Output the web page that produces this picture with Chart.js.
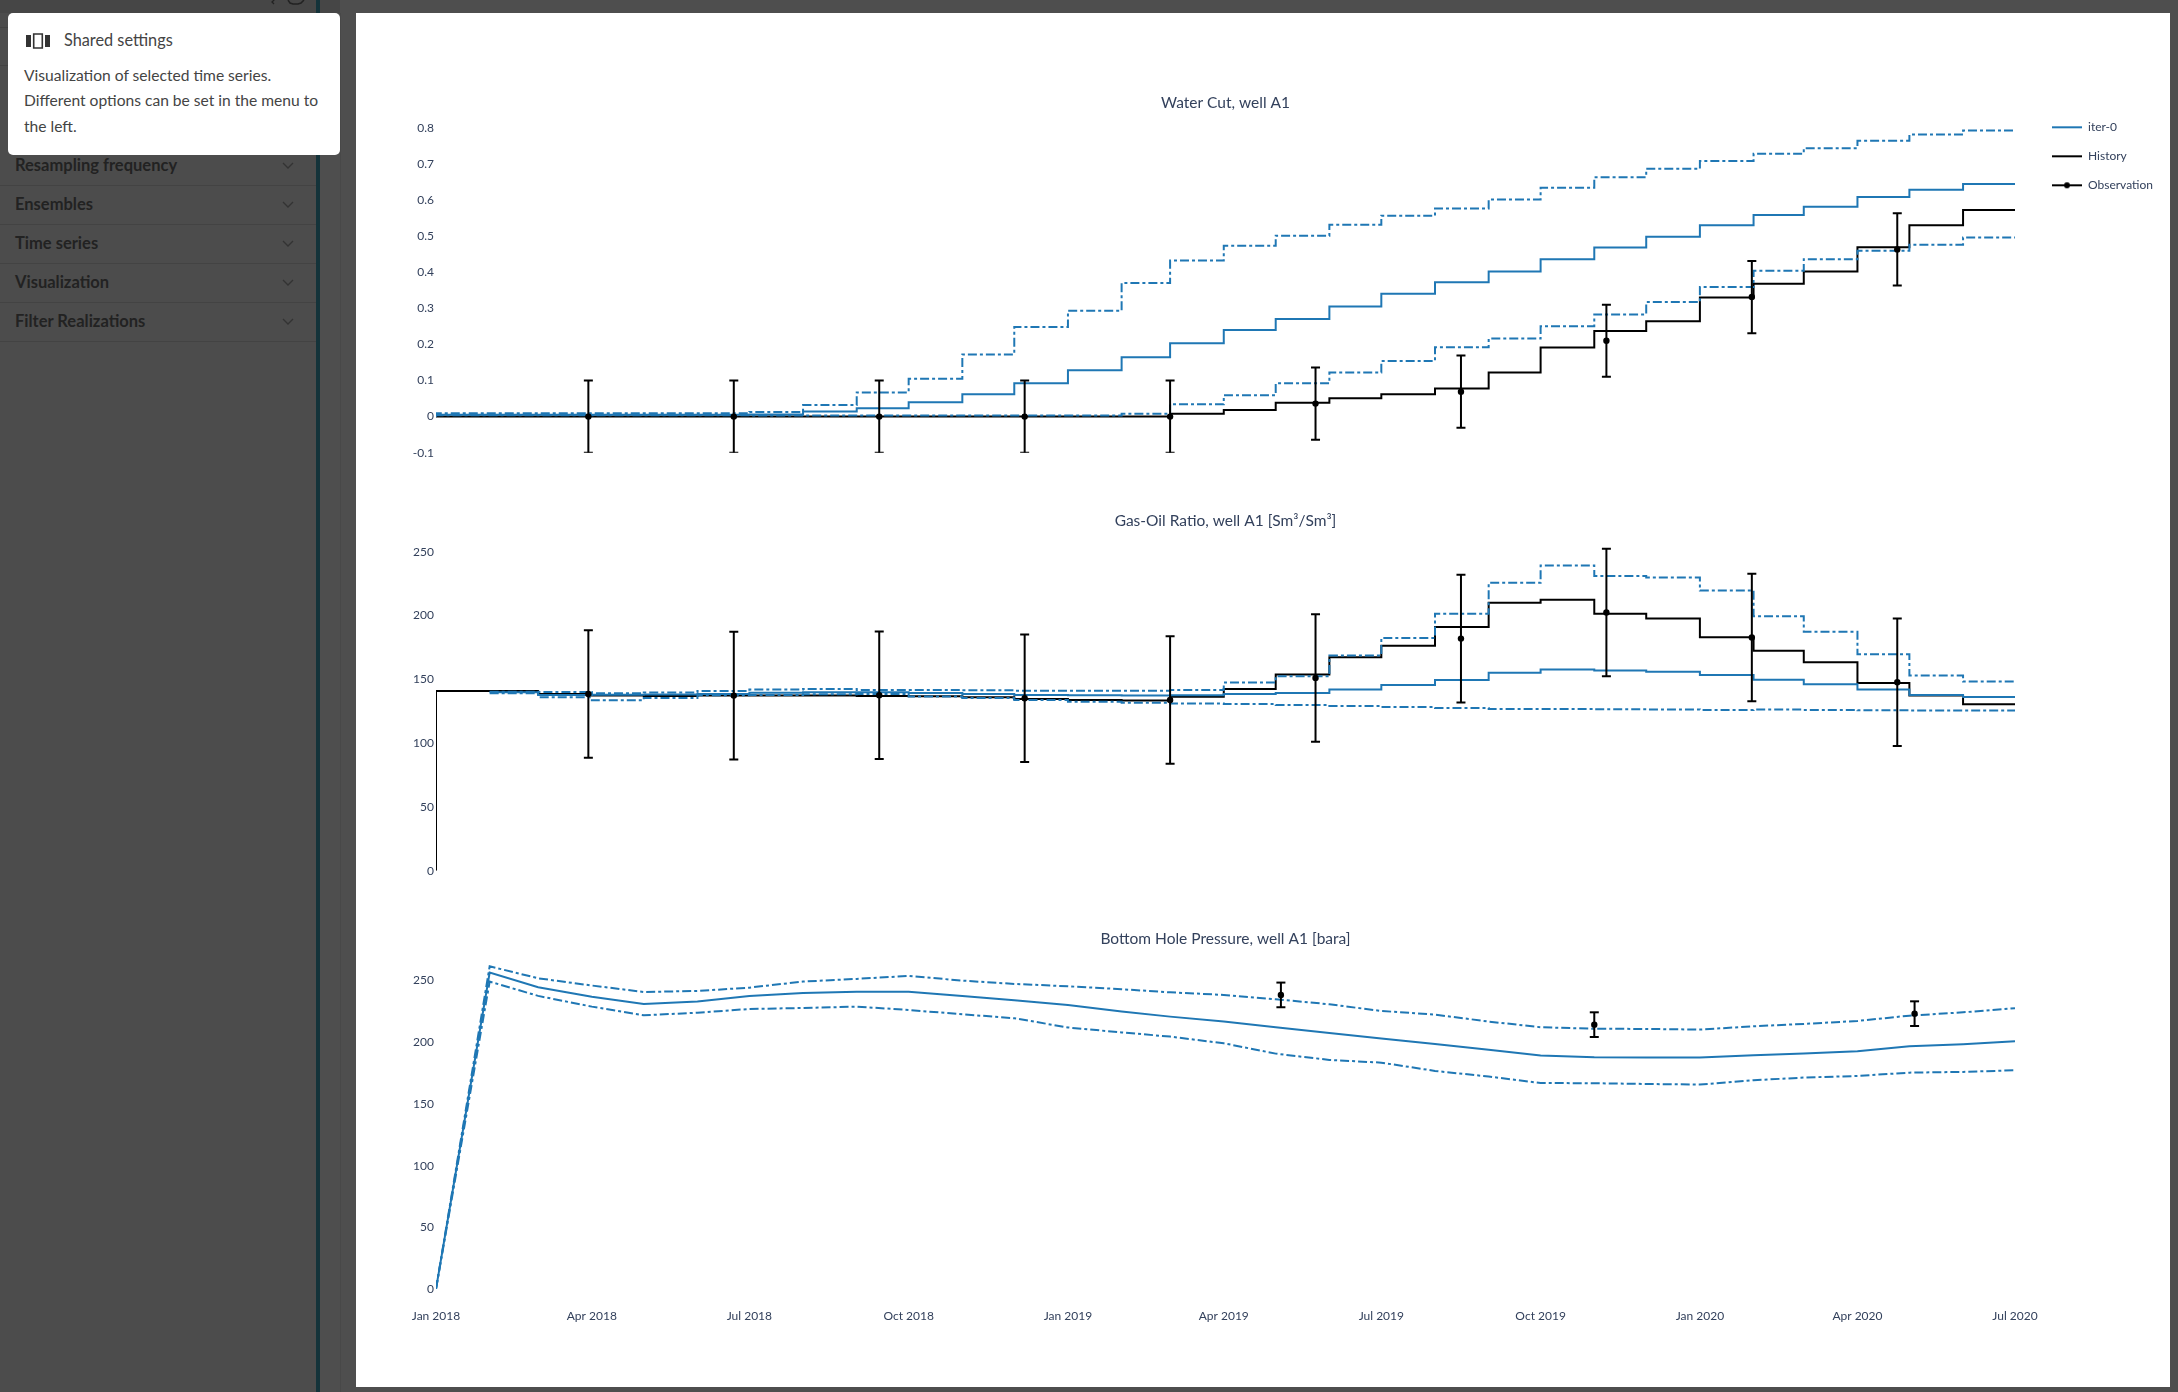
<!DOCTYPE html>
<html>
<head>
<meta charset="utf-8">
<title>Shared settings</title>
<script src="https://cdn.jsdelivr.net/npm/chart.js@4"></script>
<style>
  html, body { margin: 0; padding: 0; }
  body { position: relative; width: 2178px; height: 1392px; overflow: hidden; background: #4e4e4e; font-family: Lato, sans-serif; }
  .topband { position: absolute; left: 0; top: 0; width: 340px; height: 13px; background: #464646; }
  .stripe { position: absolute; left: 0; width: 316px; height: 1px; background: #434343; }
  .side { position: absolute; left: 0; top: 13px; width: 316px; height: 1379px; background: #4c4c4c; }
  .rail { position: absolute; left: 316px; top: 0; width: 4px; height: 1392px; background: #14333a; }
  .gutter { position: absolute; left: 340px; top: 13px; width: 1px; height: 1379px; background: #484848; }
  .sheet { position: absolute; left: 356px; top: 13px; width: 1814px; height: 1374px; background: #fff; }
  canvas { position: absolute; }
  .item { position: absolute; left: 0; width: 316px; height: 39px; border-bottom: 1px solid #434343; box-sizing: border-box; }
  .item b { position: absolute; left: 15px; top: 8px; font-size: 16.5px; color: #222; }
  .item svg { position: absolute; left: 282px; top: 15px; }
  .tip { position: absolute; left: 8px; top: 13px; width: 332px; height: 142px; background: #fff; border-radius: 5px; color: #444; }
  .tip svg { position: absolute; left: 18px; top: 20px; }
  .tip .head { position: absolute; left: 56px; top: 17px; font-size: 16.3px; }
  .tip .body { position: absolute; left: 16px; top: 50px; width: 320px; font-size: 15.6px; line-height: 25.4px; }
  .gear { position: absolute; left: 270px; top: 0; }
</style>
</head>
<body>
<div class="side"></div>
<div class="topband"></div>
<div class="stripe" style="top:27px"></div>
<div class="stripe" style="top:65px"></div>
<svg class="gear" width="40" height="8" viewBox="0 0 40 8"><path d="M6 -2L2 2l2 2" fill="none" stroke="#222" stroke-width="1.3"/><path d="M18 0l2 3 3 1 5 0 3-1 3-3" fill="none" stroke="#222" stroke-width="1.5"/></svg>
<div class="rail"></div>
<div class="gutter"></div>
<div class="sheet"></div>
<div id="menu"></div>
<div class="tip">
  <svg width="24" height="16" viewBox="0 0 24 16"><path d="M0 2h5v12H0zM19 2h5v12h-5z" fill="#333"/><path d="M7.7 1h8.6v14H7.7z" fill="none" stroke="#333" stroke-width="1.6"/></svg>
  <div class="head">Shared settings</div>
  <div class="body">Visualization of selected time series.<br>Different options can be set in the menu to<br>the left.</div>
</div>
<canvas id="wct"></canvas>
<canvas id="gor"></canvas>
<canvas id="bhp"></canvas>
<script>
'use strict';

const menuItems = ['Resampling frequency', 'Ensembles', 'Time series', 'Visualization', 'Filter Realizations'];
const legendOrder = ['iter-0', 'History', 'Observation'];

const months = [
  '2018-01-01','2018-02-01','2018-03-01','2018-04-01','2018-05-01','2018-06-01','2018-07-01','2018-08-01',
  '2018-09-01','2018-10-01','2018-11-01','2018-12-01','2019-01-01','2019-02-01','2019-03-01','2019-04-01',
  '2019-05-01','2019-06-01','2019-07-01','2019-08-01','2019-09-01','2019-10-01','2019-11-01','2019-12-01',
  '2020-01-01','2020-02-01','2020-03-01','2020-04-01','2020-05-01','2020-06-01','2020-07-01'
];
const tickDates  = ['2018-01-01','2018-04-01','2018-07-01','2018-10-01','2019-01-01','2019-04-01','2019-07-01','2019-10-01','2020-01-01','2020-04-01','2020-07-01'];
const tickLabels = ['Jan 2018','Apr 2018','Jul 2018','Oct 2018','Jan 2019','Apr 2019','Jul 2019','Oct 2019','Jan 2020','Apr 2020','Jul 2020'];

/* ─── Water cut ─── */
const wctMean = [0,.005,.005,.005,.005,.005,.005,.006,.014,.023,.04,.062,.092,.128,.164,.203,.24,.27,.305,.34,.372,.402,.436,.468,.498,.53,.558,.581,.608,.628,.644];
const wctHigh = [0,.009,.009,.009,.009,.009,.009,.013,.032,.067,.105,.172,.248,.293,.37,.432,.473,.501,.531,.556,.576,.601,.634,.663,.686,.708,.728,.743,.764,.781,.792];
const wctLow  = [0,.004,.004,.004,.004,.004,.004,.003,.003,.003,.003,.003,.003,.003,.008,.034,.059,.092,.122,.154,.192,.216,.25,.283,.317,.359,.404,.436,.459,.476,.496];
const wctHist = [0,0,0,0,0,0,0,0,0,0,0,0,0,0,0,.008,.018,.038,.051,.062,.078,.122,.191,.237,.264,.33,.368,.402,.469,.53,.572];
const wctObsDates = ['2018-03-30','2018-06-22','2018-09-14','2018-12-07','2019-03-01','2019-05-24','2019-08-16','2019-11-08','2020-01-31','2020-04-24'];
const wctObs    = [0,0,0,0,0,.036,.069,.21,.331,.463];
const wctObsErr = [.1,.1,.1,.1,.1,.1,.1,.1,.1,.1];

/* ─── Gas-oil ratio ─── */
const gorMean = [null,139.8,139.8,137.7,137.8,138,138.5,139.5,139.8,139.8,139.3,138.5,137.7,137.4,137.2,137.5,138.5,139.3,141.9,145.5,149.5,155.2,157.6,156.8,156,153.4,149.7,146.1,141.9,137.7,136.2];
const gorHigh = [null,140.3,140.3,140.1,139,139.6,140.9,141.9,142.4,141.7,141.7,141.4,141.1,141.1,141.1,141.7,147.4,152.4,168.6,182.4,201.3,225.6,239.2,231,229.8,219.6,199.4,187.2,169.6,152.9,148.2];
const gorLow  = [null,139,139,135.9,133.6,135.4,137.5,137.7,138.3,138.5,136.5,135.4,133.8,132.3,131.7,131,130.7,129.9,129.1,128.3,127.5,126.8,126.8,126.5,126.3,126,126.3,126,125.7,125.5,125.5];
const gorHist = [0,140.8,140.8,138.5,137.2,137,137.2,137.2,137.2,137,136.7,135.9,134.6,133.8,133.3,136.4,142.4,153.7,167.2,176.3,191,210,212.4,201.4,197.7,182.9,172.4,163.3,147.1,137.2,130.4];
const gorObsDates = wctObsDates;
const gorObs    = [138.5,137.2,137.5,135.1,133.8,151,181.9,202.3,182.7,147.7];
const gorObsErr = [50,50,50,50,50,50,50,50,50,50];

/* ─── Bottom hole pressure ─── */
const bhpMean = [0,256.5,244.6,237,231,233,237.6,240,241,241,237.6,234,230.3,225,220.8,216.8,212.2,207.6,203,198.6,194,189.2,187.8,187.6,187.6,189.5,191,192.7,196.8,198.4,200.8];
const bhpHigh = [0,261.6,251.9,246,240.8,241.6,244.3,249.2,251.4,253.8,250,247.3,245.4,243,240.5,238.4,234.9,230.8,225.4,222.4,216.8,212.2,211,210.8,210.3,213,214.9,217.3,221.6,224.3,227.6];
const bhpLow  = [0,249.2,237.6,228.9,221.9,224,227,227.8,228.9,226.2,222.7,219.5,212,208,204.6,199.2,190.8,185.7,183.5,176.8,172.2,167,166.8,166.2,165.7,169.2,171.4,172.7,175.4,176,177.3];
const bhpObsDates = ['2019-05-04','2019-11-01','2020-05-04'];
const bhpObs    = [238.4,214.3,223.2];
const bhpObsErr = [10,10,10];

const BLUE = '#1f77b4';
const INK  = '#33415c';
const FONT = 'Lato, sans-serif';

const day = s => Date.parse(s + 'T00:00:00Z');
const xStart = day('2018-01-01');
const xEnd   = day('2020-07-01');
const series = vals => vals.map((v, i) => ({ x: day(months[i]), y: v }));

/* ─── Dataset builders ─── */
function lineSet(label, vals, color, stepped, dash) {
  return {
    label, data: series(vals), borderColor: color, backgroundColor: color,
    borderWidth: 2, borderDash: dash || [], stepped: stepped ? 'after' : false,
    pointRadius: 0, spanGaps: false, tension: 0, order: 2
  };
}

// whiskers: one dataset broken into pieces by null, the caps are its line-shaped points
function whiskerSet(dates, vals, errs) {
  const data = [];
  dates.forEach((d, i) => {
    data.push({ x: day(d), y: vals[i] - errs[i] }, { x: day(d), y: vals[i] + errs[i] }, { x: day(d), y: null });
  });
  return {
    label: 'whiskers', data, borderColor: '#000', borderWidth: 2,
    pointStyle: 'line', pointRadius: 4.5, pointBorderColor: '#000', pointBorderWidth: 2,
    spanGaps: false, order: 1
  };
}

function obsSet(dates, vals) {
  return {
    label: 'Observation', data: dates.map((d, i) => ({ x: day(d), y: vals[i] })),
    showLine: false, borderColor: '#000', backgroundColor: '#000',
    pointStyle: 'circle', pointRadius: 3.2, pointBorderWidth: 0, order: 0
  };
}

/* ─── Legend samples ─── */
function legendIcon(color, dot) {
  const c = document.createElement('canvas');
  c.width = 30; c.height = 10;
  const g = c.getContext('2d');
  g.fillStyle = color;
  g.fillRect(0, 4, 30, 2);
  if (dot) { g.beginPath(); g.arc(15, 5, 3, 0, 7); g.fill(); }
  return c;
}
const legendIcons = { 'iter-0': legendIcon(BLUE), 'History': legendIcon('#000'), 'Observation': legendIcon('#000', true) };

// the legend sits clear of the plot, higher and further right than Chart.js would put it
const legendNudge = {
  id: 'legendNudge',
  afterLayout(chart) {
    const l = chart.legend;
    l.left = 1679; l.right = l.left + l.width;
    l.top = 11.3; l.bottom = l.top + l.height;
  }
};

/* ─── One panel ─── */
function panel(id, box, title, min, max, yTicks, datasets, opts) {
  const canvas = document.getElementById(id);
  canvas.style.left = box.left + 'px';
  canvas.style.top = box.top + 'px';
  canvas.width = box.width;
  canvas.height = box.height;

  return new Chart(canvas, {
    type: 'line',
    data: { datasets },
    plugins: opts.plugins || [],
    options: {
      responsive: false,
      animation: false,
      devicePixelRatio: 1,
      layout: { padding: { top: 0, bottom: box.padBottom, right: opts.padRight, left: 0 } },
      plugins: {
        title: {
          display: true, text: title, color: INK,
          font: { family: FONT, size: 15.5, weight: 'normal' },
          padding: { top: box.titleTop, bottom: box.titleBottom }, fullSize: false
        },
        tooltip: { enabled: false },
        legend: opts.legend || { display: false }
      },
      scales: {
        x: {
          type: 'linear', min: xStart, max: xEnd,
          grid: { display: false, drawTicks: false }, border: { display: false },
          afterBuildTicks: s => { s.ticks = opts.xTicks ? tickDates.map(d => ({ value: day(d) })) : []; },
          afterFit: s => { s.height = opts.xTicks ? 42 : 0; },
          ticks: {
            display: !!opts.xTicks, color: INK, autoSkip: false, maxRotation: 0, padding: 19.5,
            font: { family: FONT, size: 12 },
            callback: v => tickLabels[tickDates.findIndex(d => day(d) === v)]
          }
        },
        y: {
          type: 'linear', min, max,
          grid: { display: false, drawTicks: false }, border: { display: false },
          afterBuildTicks: s => { s.ticks = yTicks.map(v => ({ value: v })); },
          afterFit: s => { s.width = 80; },
          ticks: {
            color: INK, padding: 2, autoSkip: false,
            font: { family: FONT, size: 12 },
            callback: v => String(v)
          }
        }
      }
    }
  });
}

/* ─── Sidebar ─── */
const menu = document.getElementById('menu');
menuItems.forEach((name, i) => {
  const el = document.createElement('div');
  el.className = 'item';
  el.style.top = (147 + i * 39) + 'px';
  el.innerHTML = `<b>${name}</b><svg width="12" height="8" viewBox="0 0 12 8"><path d="M1 1l5 5 5-5" fill="none" stroke="#333" stroke-width="1.3"/></svg>`;
  menu.appendChild(el);
});

/* ─── Charts ─── */
const canvasLeft = 356, canvasWidth = 1812;
const plotRight = 1659; // right end of the plots, canvas px
const dashDot = [9, 3, 3, 3];
const wctTicks = [-.1, 0, .1, .2, .3, .4, .5, .6, .7, .8];
const gorTicks = [0, 50, 100, 150, 200, 250];
const bhpTicks = [0, 50, 100, 150, 200, 250];

const wctChart = panel('wct',
  { left: canvasLeft, top: 93, width: canvasWidth, height: 370, padBottom: 10.3, titleTop: .4, titleBottom: 15.7 },
  'Water Cut, well A1', -.1, .8, wctTicks,
  [
    lineSet('iter-0', wctMean, BLUE, true),
    lineSet('iter-0 high', wctHigh, BLUE, true, dashDot),
    lineSet('iter-0 low', wctLow, BLUE, true, dashDot),
    lineSet('History', wctHist, '#000', true),
    whiskerSet(wctObsDates, wctObs, wctObsErr),
    obsSet(wctObsDates, wctObs)
  ],
  {
    padRight: 0,
    plugins: [legendNudge],
    legend: {
      display: true, position: 'right', align: 'start',
      labels: {
        color: INK, font: { family: FONT, size: 12 }, padding: 17,
        usePointStyle: true, pointStyleWidth: 30,
        generateLabels: chart => Chart.defaults.plugins.legend.labels.generateLabels(chart)
          .map(item => ({ ...item, pointStyle: legendIcons[item.text] })),
        filter: item => legendOrder.includes(item.text),
        sort: (a, b) => legendOrder.indexOf(a.text) - legendOrder.indexOf(b.text)
      }
    }
  });
wctChart.options.layout.padding.right += wctChart.chartArea.right - plotRight;
wctChart.update();

panel('gor',
  { left: canvasLeft, top: 511, width: canvasWidth, height: 370, padBottom: 10.3, titleTop: .7, titleBottom: 15 },
  'Gas-Oil Ratio, well A1 [Sm³/Sm³]', 0, 255, gorTicks,
  [
    lineSet('iter-0', gorMean, BLUE, true),
    lineSet('iter-0 high', gorHigh, BLUE, true, dashDot),
    lineSet('iter-0 low', gorLow, BLUE, true, dashDot),
    lineSet('History', gorHist, '#000', true),
    whiskerSet(gorObsDates, gorObs, gorObsErr),
    obsSet(gorObsDates, gorObs)
  ],
  { padRight: canvasWidth - plotRight });

panel('bhp',
  { left: canvasLeft, top: 929, width: canvasWidth, height: 411, padBottom: 9, titleTop: .7, titleBottom: 13.8 },
  'Bottom Hole Pressure, well A1 [bara]', 0, 265, bhpTicks,
  [
    lineSet('iter-0', bhpMean, BLUE, false),
    lineSet('iter-0 high', bhpHigh, BLUE, false, dashDot),
    lineSet('iter-0 low', bhpLow, BLUE, false, dashDot),
    whiskerSet(bhpObsDates, bhpObs, bhpObsErr),
    obsSet(bhpObsDates, bhpObs)
  ],
  { padRight: canvasWidth - plotRight, xTicks: true });
</script>
</body>
</html>
